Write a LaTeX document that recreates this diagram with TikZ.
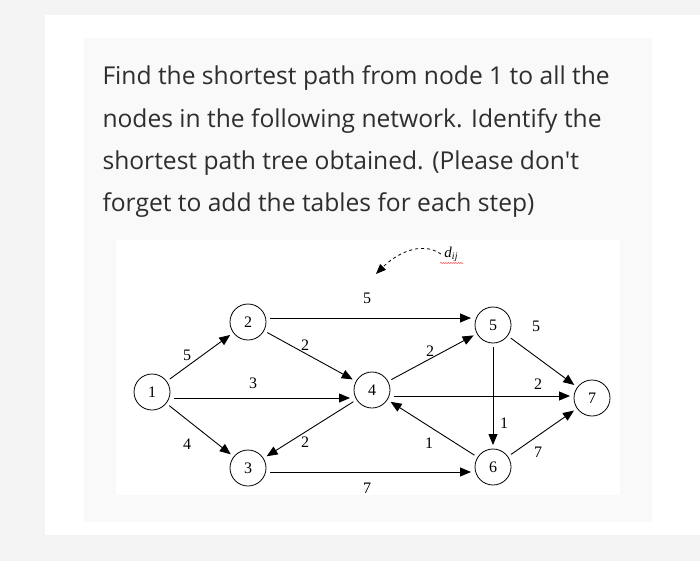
\documentclass[tikz,border=0pt]{standalone}
\usepackage{fontspec}
\setmainfont{Liberation Serif}
\newfontfamily\uifont{Open Sans}
\usetikzlibrary{arrows.meta,decorations.pathmorphing}
\begin{document}
\begin{tikzpicture}[x=1pt,y=-1pt,
  nd/.style={draw,circle,minimum size=36pt,inner sep=0pt,font=\fontsize{16}{16}\selectfont,outer sep=4pt,line width=0.8pt},
  ed/.style={-{Triangle[length=11pt,width=9pt]},line width=0.9pt},
  lb/.style={font=\fontsize{16}{16}\selectfont},
  tx/.style={anchor=west,text=black!82,font=\uifont\fontsize{24.6}{24.6}\selectfont}]
\fill[gray!9] (0,0) rectangle (700,561);
\fill[white] (45,15) rectangle (700,535);
\fill[gray!5] (84,38) rectangle (652,522);
\fill[white] (116,240) rectangle (620,495);
\node[tx] (t1) at (99,78) {Find the shortest path from node 1 to all the};
\node[tx] (t2) at (99,121) {nodes in the following network. Identify the};
\node[tx] (t3) at (99,163) {shortest path tree obtained. (Please don't};
\node[tx] (t4) at (99,205) {forget to add the tables for each step)};
\node[nd] (n1) at (152,392) {1};
\node[nd] (n2) at (248,322) {2};
\node[nd] (n3) at (248,468) {3};
\node[nd] (n4) at (372,390) {4};
\node[nd] (n5) at (493,325) {5};
\node[nd] (n6) at (493,467) {6};
\node[nd] (n7) at (592,398) {7};
\draw[ed] (n1) -- (n2);
\draw[ed] (n1.east) ++(0,6) coordinate (a1) -- (a1 -| n4.west);
\draw[ed] (n1) -- (n3);
\draw[ed] (n2.east) ++(0,-4) coordinate (a2) -- (a2 -| n5.west);
\draw[ed] (n2) -- (n4);
\draw[ed] (n4) -- (n3);
\draw[ed] (n3.east) ++(0,4) coordinate (a3) -- (a3 -| n6.west);
\draw[ed] (n4) -- (n5);
\draw[ed] (n4.east) ++(0,6) coordinate (a4) -- (a4 -| n7.west);
\draw[ed] (n6) -- (n4);
\draw[ed] (n5) -- (n6);
\draw[ed] (n5) -- (n7);
\draw[ed] (n6) -- (n7);
\node[lb] (l1) at (367,298) {5};
\node[lb] (l2) at (187,355) {5};
\node[lb] (l3) at (305,345) {2};
\node[lb] (l4) at (253,383) {3};
\node[lb] (l5) at (187,444) {4};
\node[lb] (l6) at (305,442) {2};
\node[lb] (l7) at (367,488) {7};
\node[lb] (l8) at (430,351) {2};
\node[lb] (l9) at (538,384) {2};
\node[lb] (l10) at (429,443) {1};
\node[lb] (l11) at (504,423) {1};
\node[lb] (l12) at (536,326) {5};
\node[lb] (l13) at (538,452) {7};
\node[font=\itshape\fontsize{15}{15}\selectfont] (d) at (451,254) {d\raisebox{-2pt}{\fontsize{10}{10}\selectfont ij}};
\draw[red!70,line width=0.5pt,decorate,decoration={snake,amplitude=0.6pt,segment length=2.5pt}] (440,263) -- (463,263);
\draw[dashed,line width=0.8pt,-{Triangle[length=10pt,width=8pt]}] (d.west) .. controls (420,240) and (395,255) .. (376,274);
\end{tikzpicture}
\end{document}
